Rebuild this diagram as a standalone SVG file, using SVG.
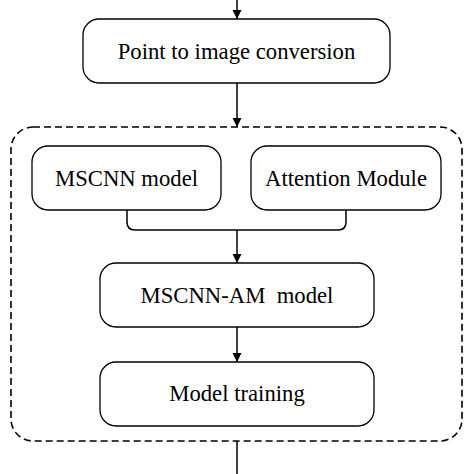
<svg xmlns="http://www.w3.org/2000/svg" width="474" height="474" viewBox="0 0 474 474">
<defs>
<marker id="ah" viewBox="0 0 10 10" refX="10" refY="5" markerWidth="9" markerHeight="11" markerUnits="userSpaceOnUse" orient="auto">
<path d="M0,0 L10,5 L0,10 Z" fill="#000"/>
</marker>
<style>
.box{fill:#fff;stroke:#000;stroke-width:1.3}
.lbl{font-family:"Liberation Serif","Times New Roman",serif;font-size:22.7px;fill:#000;text-anchor:middle}
.c{fill:none;stroke:#000;stroke-width:1.5}
</style>
</defs>
<rect width="474" height="474" fill="#fff"/>
<g id="group">
<rect x="11" y="127" width="451" height="314" rx="22" fill="none" stroke="#000" stroke-width="1.6" stroke-dasharray="7,4"/>
</g>
<g id="n1"><rect class="box" x="83" y="19" width="307" height="64" rx="16"/><text class="lbl" x="236.5" y="59">Point to image conversion</text></g>
<g id="n2"><rect class="box" x="32" y="146" width="189" height="64" rx="16"/><text class="lbl" x="126.5" y="186">MSCNN model</text></g>
<g id="n3"><rect class="box" x="251" y="146" width="190" height="64" rx="16"/><text class="lbl" x="346" y="186">Attention Module</text></g>
<g id="n4"><rect class="box" x="100" y="263" width="274" height="64" rx="16"/><text class="lbl" x="237" y="303" xml:space="preserve">MSCNN-AM  model</text></g>
<g id="n5"><rect class="box" x="100" y="362" width="274" height="64" rx="16"/><text class="lbl" x="237" y="401">Model training</text></g>
<g id="connectors">
<line class="c" x1="237" y1="0" x2="237" y2="19" marker-end="url(#ah)"/>
<line class="c" x1="237" y1="83" x2="237" y2="127" marker-end="url(#ah)"/>
<path class="c" d="M127,210 V222 Q127,230 135,230 H338 Q346,230 346,222 V210"/>
<line class="c" x1="237" y1="230" x2="237" y2="263" marker-end="url(#ah)"/>
<line class="c" x1="237" y1="327" x2="237" y2="362" marker-end="url(#ah)"/>
<line class="c" x1="237" y1="441" x2="237" y2="474"/>
</g>
</svg>
